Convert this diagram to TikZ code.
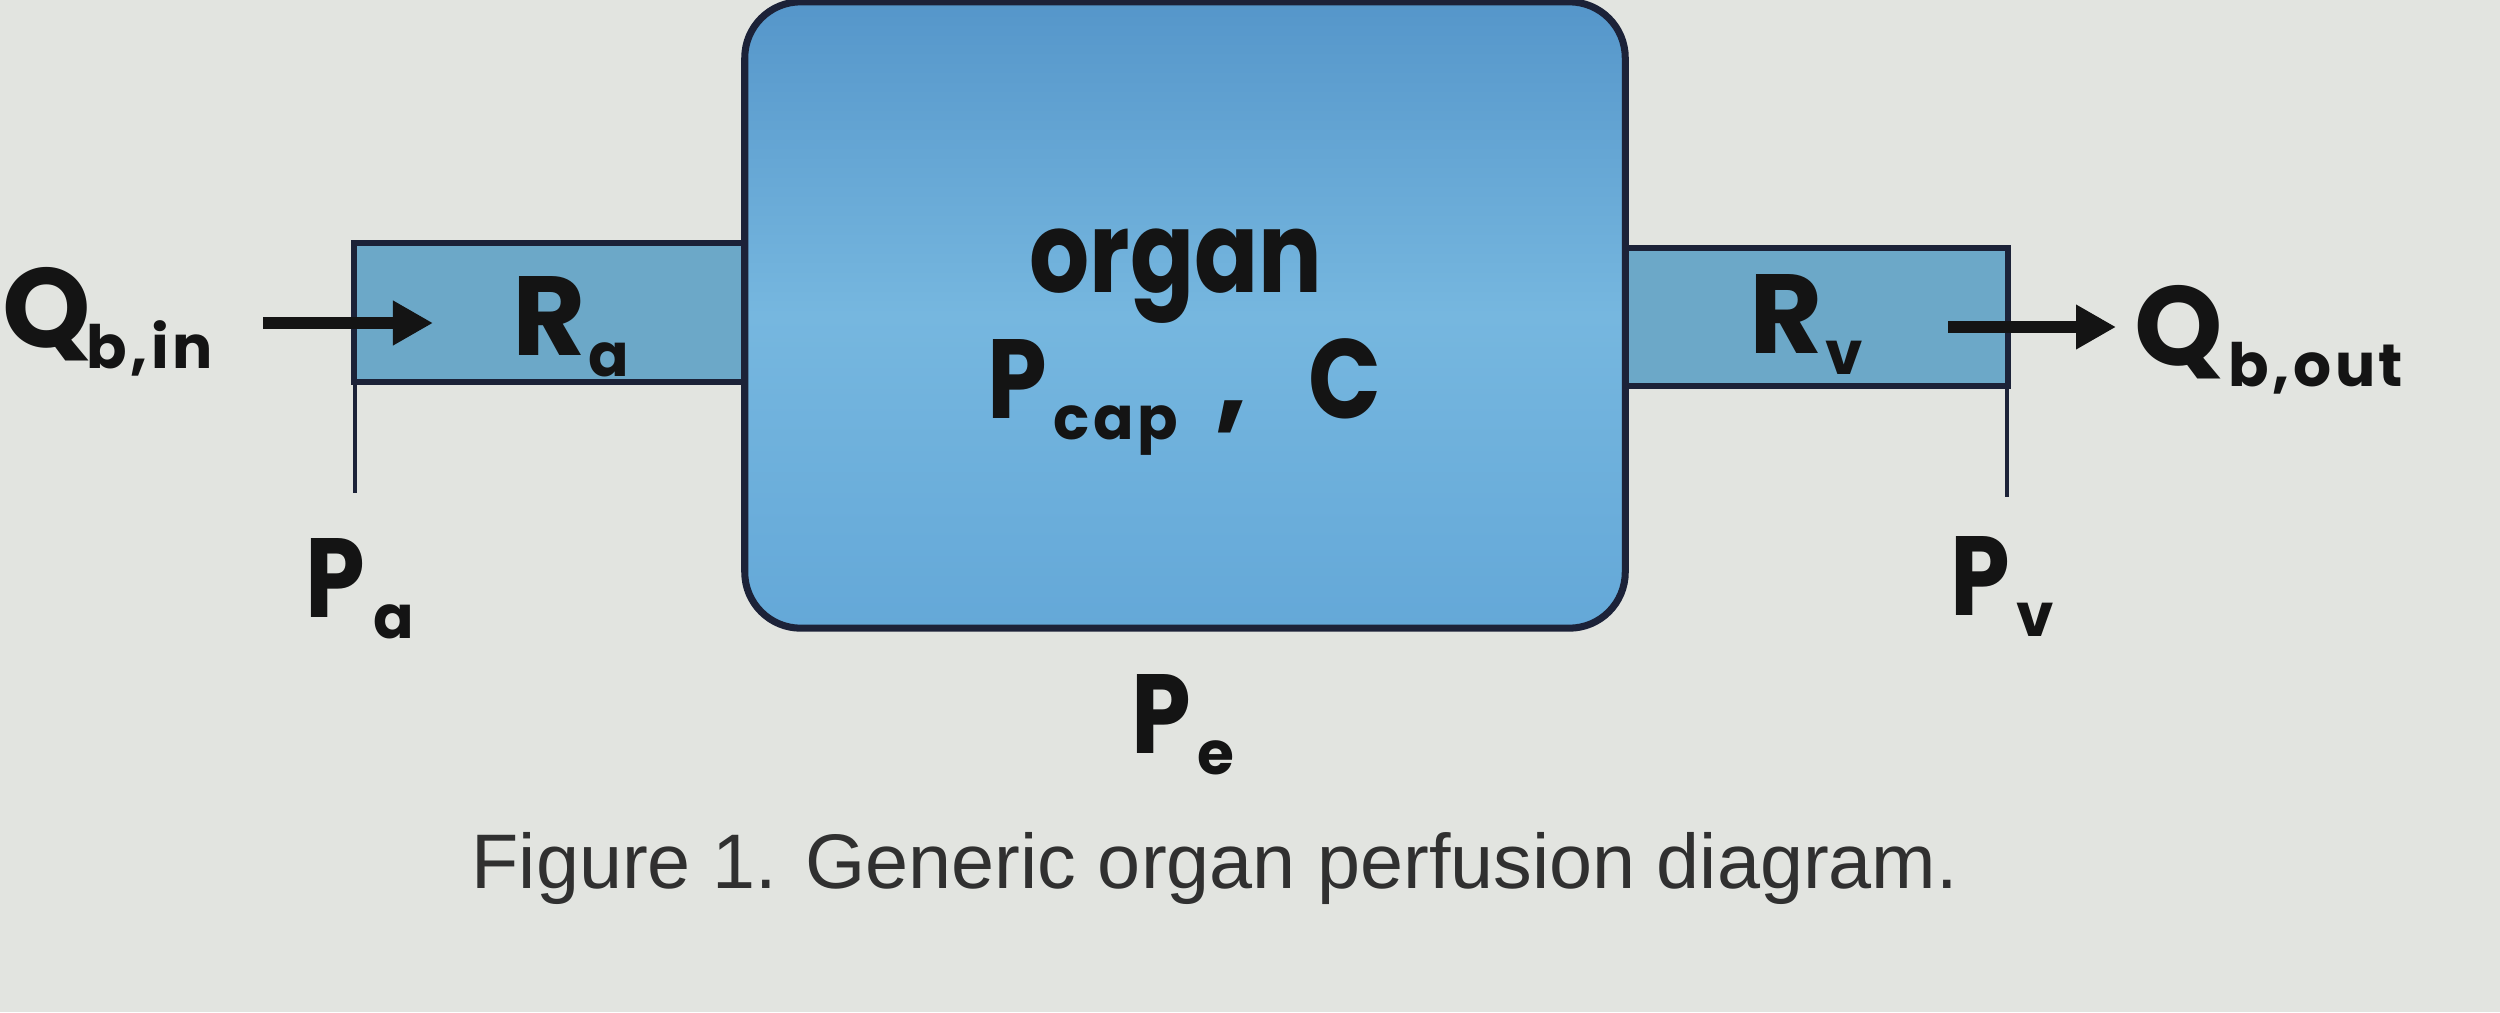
\documentclass[tikz,border=0pt]{standalone}
\usepackage{fontspec}
\usetikzlibrary{arrows.meta}
\newfontfamily\gfont{Poppins}
\newfontfamily\subfont{Poppins}[LetterSpace=6]
\setmainfont{Liberation Sans}
\definecolor{bg}{HTML}{E2E4E0}
\definecolor{edge}{HTML}{1C2238}
\definecolor{tubefill}{HTML}{6CA8C8}
\definecolor{boxtop}{HTML}{5596CA}
\definecolor{boxmid}{HTML}{76B7DF}
\definecolor{boxbot}{HTML}{64A8D8}
\definecolor{ink}{HTML}{141414}
\definecolor{capink}{HTML}{303030}
\newcommand\lowsub[1]{\raisebox{-6pt}{\subfont\bfseries\fontsize{17}{17}\selectfont #1}}
\newcommand\slim[1]{\scalebox{0.85}[1]{#1}}
\tikzset{
  lbl/.style={anchor=base west, inner sep=0pt, text=ink, font=\gfont\bfseries\fontsize{32}{32}\selectfont},
  tube/.style={draw=edge, line width=1.5pt, fill=tubefill},
  tap/.style={draw=edge, line width=1.3pt},
  flow/.style={draw=ink, line width=3.2pt, -{Triangle[length=0.4cm,width=0.42cm]}},
}
\begin{document}
\begin{tikzpicture}[x=0.01cm, y=-0.01cm]
\fill[bg] (0,0) rectangle (2500,1012);
\useasboundingbox (0,0) rectangle (2500,1012);
% tubes
\draw[tube] (354,243) rectangle (760,382);
\draw[tube] (1610,248) rectangle (2008,386);
% organ box
\node[draw=edge, line width=2pt, rounded corners=0.56cm, minimum width=8.8cm, minimum height=6.26cm,
      top color=boxtop, bottom color=boxbot, middle color=boxmid, inner sep=0pt] (organ) at (1185,315) {};
% pressure taps
\coordinate (tapA) at (355,382);
\coordinate (tapAend) at (355,493);
\coordinate (tapV) at (2007,386);
\coordinate (tapVend) at (2007,497);
\draw[tap] (tapA) -- (tapAend);
\draw[tap] (tapV) -- (tapVend);
% flow arrows
\coordinate (inS) at (263,323);
\coordinate (inE) at (433,323);
\coordinate (outS) at (1948,327);
\coordinate (outE) at (2116,327);
\draw[flow] (inS) -- (inE);
\draw[flow] (outS) -- (outE);
% labels
\node[lbl] (qin) at (2,347) {Q\hspace{-0.05cm}\lowsub{b,in}};
\node[lbl] (ra) at (512,355) {R\hspace{0.02cm}\lowsub{a}};
\node[lbl] (pa) at (305,617) {\slim{P}\hspace{0.08cm}\lowsub{a}};
\node[lbl, anchor=base] (org) at (1176,292) {\scalebox{0.84}[1]{organ}};
\node[lbl] (pcap) at (987,418) {\slim{P}\hspace{0.06cm}\lowsub{cap}\hspace{0.38cm},\hspace{0.6cm}\slim{C}};
\node[lbl] (rv) at (1749,353) {R\hspace{0.02cm}\lowsub{v}};
\node[lbl] (qout) at (2134,365) {Q\hspace{0.05cm}\lowsub{b,out}};
\node[lbl] (pv) at (1950,615) {\slim{P}\hspace{0.06cm}\lowsub{v}};
\node[lbl] (pe) at (1131,753) {\slim{P}\hspace{0.06cm}\lowsub{e}};
\node[anchor=base west, inner sep=0pt, text=capink, font=\fontsize{22}{22}\selectfont] (cap) at (471,888) {Figure 1. Generic organ perfusion diagram.};
\end{tikzpicture}
\end{document}
